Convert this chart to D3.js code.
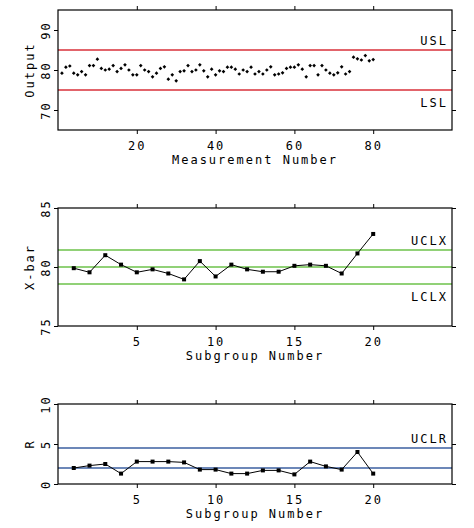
<!DOCTYPE html>
<html><head><meta charset="utf-8">
<script src="https://cdn.jsdelivr.net/npm/d3@7"></script>
<style>body{margin:0;background:#fff}text{font-family:"DejaVu Sans Mono",monospace;font-size:12px;letter-spacing:2px}</style>
</head><body>
<svg id="chart" width="474" height="528"></svg>
<script>
// individual measurements (1..80)
var measurements = [79.2,80.7,81.0,79.2,78.8,79.6,78.8,81.1,81.1,82.7,80.4,80.0,80.2,81.1,79.6,80.4,81.3,80.0,78.8,78.8,
  81.1,80.0,79.6,78.3,79.2,80.4,80.8,77.7,78.8,77.3,79.6,79.8,81.1,79.6,80.0,81.3,79.8,78.3,80.2,78.8,
  79.8,79.6,80.7,80.7,80.2,79.0,80.0,79.6,80.7,79.0,79.6,79.0,80.0,80.8,78.8,79.0,79.3,80.4,80.7,80.7,
  81.3,80.2,78.3,81.1,81.1,78.8,81.1,80.0,79.2,78.8,79.3,80.8,79.0,79.6,83.2,82.8,82.5,83.6,82.3,82.6];
var specLimits = [{v: 85, label: "USL"}, {v: 75, label: "LSL"}];

var xbar = [79.9,79.55,81.0,80.2,79.55,79.8,79.45,78.95,80.5,79.2,80.2,79.8,79.6,79.6,80.1,80.2,80.1,79.45,81.15,82.8];
var xbarLines = [{v: 81.44, label: "UCLX"}, {v: 80, label: ""}, {v: 78.56, label: "LCLX"}];

var ranges = [2.0,2.3,2.5,1.3,2.8,2.8,2.8,2.7,1.8,1.8,1.3,1.3,1.7,1.7,1.2,2.8,2.2,1.8,4.0,1.3];
var rangeLines = [{v: 4.5, label: "UCLR"}, {v: 2.0, label: ""}];

var svg = d3.select("#chart");
var left = 58, right = 452;

function panel(cfg) {
  var g = svg.append("g");
  var x = d3.scaleLinear().domain(cfg.xDomain).range([left, right]);
  var y = d3.scaleLinear().domain(cfg.yDomain).range([cfg.bottom, cfg.top]);

  cfg.lines.forEach(function(l) {
    g.append("line").attr("x1", left).attr("x2", right)
      .attr("y1", y(l.v)).attr("y2", y(l.v))
      .attr("stroke", cfg.lineColor).attr("stroke-width", 1.3);
    if (l.label) {
      var below = l.v < cfg.center;
      g.append("text").attr("x", right - 4).attr("y", below ? y(l.v) + 17 : y(l.v) - 5)
        .attr("text-anchor", "end").text(l.label);
    }
  });

  g.append("g").attr("transform", "translate(0," + cfg.bottom + ")")
    .call(d3.axisBottom(x).tickValues(cfg.xTicks).tickSize(4).tickSizeOuter(0))
    .call(function(a) { a.select(".domain").remove(); a.selectAll("text").attr("dy", "1.1em"); });
  g.append("g").attr("transform", "translate(0," + cfg.top + ")")
    .call(d3.axisTop(x).tickValues(cfg.xTicks).tickSize(4).tickFormat(""))
    .call(function(a) { a.select(".domain").remove(); });
  g.append("g").attr("transform", "translate(" + left + ",0)")
    .call(d3.axisLeft(y).tickValues(cfg.yTicks).tickSize(4))
    .call(function(a) {
      a.select(".domain").remove();
      a.selectAll(".tick text").attr("transform", "rotate(-90)").attr("x", 0).attr("y", -8)
        .attr("dy", 0).attr("text-anchor", "middle");
    });
  g.append("g").attr("transform", "translate(" + right + ",0)")
    .call(d3.axisRight(y).tickValues(cfg.yTicks).tickSize(4).tickFormat(""))
    .call(function(a) { a.select(".domain").remove(); });
  g.selectAll(".tick line").attr("stroke", "#000");
  g.selectAll(".tick text").style("font-family", "DejaVu Sans Mono").style("font-size", "12px")
    .style("letter-spacing", "2px").attr("fill", "#000");

  g.append("rect").attr("x", left).attr("y", cfg.top).attr("width", right - left)
    .attr("height", cfg.bottom - cfg.top).attr("fill", "none").attr("stroke", "#000").attr("stroke-width", 1.2);

  if (cfg.connect) {
    g.append("path").datum(cfg.data).attr("fill", "none").attr("stroke", "#000").attr("stroke-width", 1)
      .attr("d", d3.line().x(function(d, i) { return x(i + 1); }).y(function(d) { return y(d); }));
  }
  g.selectAll(".pt").data(cfg.data).enter().append("rect")
    .attr("x", function(d, i) { return x(i + 1) - cfg.ps / 2; })
    .attr("y", function(d) { return y(d) - cfg.ps / 2; })
    .attr("width", cfg.ps).attr("height", cfg.ps).attr("fill", "#000")
    .attr("transform", cfg.connect ? null : function(d, i) { return "rotate(45," + x(i + 1) + "," + y(d) + ")"; });

  g.append("text").attr("x", (left + right) / 2).attr("y", cfg.bottom + 34).attr("text-anchor", "middle").text(cfg.xLabel);
  g.append("text").attr("transform", "translate(" + (left - 24) + "," + ((cfg.top + cfg.bottom) / 2) + ") rotate(-90)")
    .attr("text-anchor", "middle").text(cfg.yLabel);
}

panel({data: measurements, xDomain: [0, 100], yDomain: [65, 95], top: 10, bottom: 130,
  xTicks: [20, 40, 60, 80], yTicks: [70, 80, 90], lines: specLimits, center: 80, lineColor: "#d9303a",
  connect: false, ps: 2.6, xLabel: "Measurement Number", yLabel: "Output"});
panel({data: xbar, xDomain: [0, 25], yDomain: [75, 85], top: 208, bottom: 326,
  xTicks: [5, 10, 15, 20], yTicks: [75, 80, 85], lines: xbarLines, center: 80, lineColor: "#6cc24a",
  connect: true, ps: 4, xLabel: "Subgroup Number", yLabel: "X-bar"});
panel({data: ranges, xDomain: [0, 25], yDomain: [0, 10], top: 404, bottom: 484,
  xTicks: [5, 10, 15, 20], yTicks: [0, 5, 10], lines: rangeLines, center: 0, lineColor: "#3b5fa0",
  connect: true, ps: 4, xLabel: "Subgroup Number", yLabel: "R"});
</script>
</body></html>
